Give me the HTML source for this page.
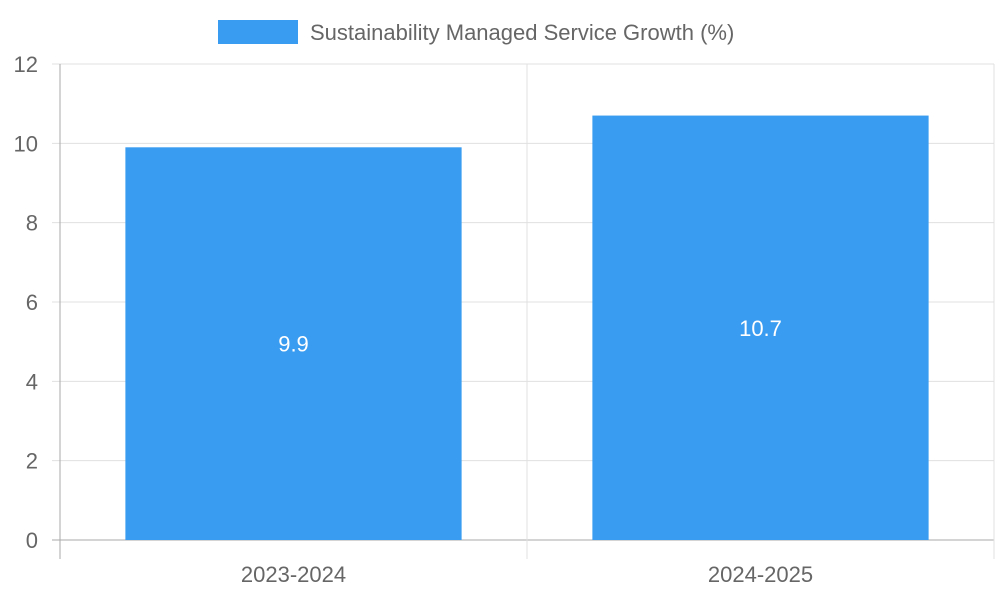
<!DOCTYPE html>
<html><head><meta charset="utf-8"><style>
html,body{margin:0;padding:0;background:#fff;}
svg{display:block;font-family:"Liberation Sans",sans-serif;}
</style></head><body>
<svg id="chart" width="1000" height="600"></svg>
<script>
const categories = ["2023-2024", "2024-2025"];
const values = [9.9, 10.7];
const yTicks = [0, 2, 4, 6, 8, 10, 12];
const seriesName = "Sustainability Managed Service Growth (%)";

const NS = "http://www.w3.org/2000/svg";
const svg = document.getElementById("chart");
const L = 60, R = 994, T = 64, B = 540, yMax = 12;
const yScale = v => B - (v / yMax) * (B - T);
const band = (R - L) / categories.length;
const xCenter = i => L + band * (i + 0.5);
const barW = band * 0.72;

function el(tag, attrs, text) {
  const e = document.createElementNS(NS, tag);
  for (const k in attrs) e.setAttribute(k, attrs[k]);
  if (text !== undefined) e.textContent = text;
  svg.appendChild(e);
  return e;
}

// horizontal gridlines + y tick labels
yTicks.forEach(t => {
  const y = yScale(t);
  const g = el("line", {x1: L - 8, x2: R, y1: y, y2: y, stroke: t === 0 ? "#aaa" : "#e0e0e0", "stroke-width": 1});
  
  
  const lb = el("text", {x: L - 22, y: y + 8, "text-anchor": "end", "font-size": 22, fill: "#666"}, String(t));
  
  
});

// vertical gridlines
for (let i = 0; i <= categories.length; i++) {
  const x = L + band * i;
  const v = el("line", {x1: x, x2: x, y1: T, y2: B + 19, stroke: i === 0 ? "#aaa" : "#e0e0e0", "stroke-width": 1});
  
  
}

// bars
categories.forEach((c, i) => {
  const y = yScale(values[i]);
  const r = el("rect", {x: xCenter(i) - barW / 2, y: y, width: barW, height: B - y, fill: "#3a9cf0"});
  
  
  const vl = el("text", {x: xCenter(i), y: (y + B) / 2 + 8, "text-anchor": "middle", "font-size": 22, fill: "#fff"}, String(values[i]));
  
  
  const xl = el("text", {x: xCenter(i), y: B + 42, "text-anchor": "middle", "font-size": 22, fill: "#666"}, c);
  
  
});

// legend
const lr = el("rect", {x: 218, y: 20, width: 80, height: 24, fill: "#3a9cf0"});


const lt = el("text", {x: 310, y: 40, "font-size": 22, fill: "#666"}, seriesName);


</script>
</body></html>
